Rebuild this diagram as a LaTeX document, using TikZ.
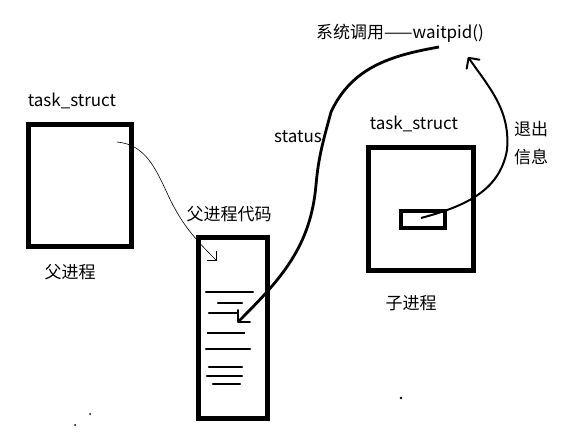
\documentclass[tikz,border=0pt]{standalone}
\usepackage{fontspec}
\setmainfont{Noto Sans CJK SC}
\usetikzlibrary{arrows.meta}
\tikzset{
  box/.style={draw, line width=5pt, inner sep=0pt, anchor=north west},
  lbl/.style={font=\fontsize{17}{20}\selectfont, inner sep=0pt},
  codeline/.style={line width=2.5pt, line cap=round},
  barb/.style={-{Straight Barb[angle=90:9pt 1, round]}},
}
\begin{document}
\begin{tikzpicture}[x=1pt, y=-1pt]
        \useasboundingbox (0,0) rectangle (562,435);
        % parent process
        \node[box, minimum width=103pt, minimum height=122pt] (parent) at (26,122.5) {};
        \node[lbl] (ptask) at (72,101) {task\_struct};
        \node[lbl] (pname) at (70,272) {父进程};

        % parent code
        \node[box, minimum width=69pt, minimum height=180pt] (code) at (195.5,235.5) {};
        \node[lbl] (codename) at (229,214) {父进程代码};
        \draw[codeline] (206,292) -- (253,292);
        \draw[codeline] (218,303) -- (242,303);
        \draw[codeline] (209,313) -- (237,313);
        \draw[line width=1.2pt] (207,333) -- (245,333);
        \draw[codeline] (206,349) -- (250,349);
        \draw[codeline] (209,367) -- (242,367);
        \draw[codeline] (207,376) -- (242,376);
        \draw[codeline] (213,384) -- (240,384);

        % child process
        \node[box, minimum width=105pt, minimum height=123pt] (child) at (365.5,145.5) {};
        \node[box, line width=4pt, minimum width=44pt, minimum height=17pt] (info) at (399,209) {};
        \node[lbl] (ctask) at (414,124) {task\_struct};
        \node[lbl] (cname) at (411,303) {子进程};
        \node[lbl] (exit1) at (531,129) {退出};
        \node[lbl] (exit2) at (531,157) {信息};

        % system call
        \node[lbl] (call) at (400,33) {系统调用——waitpid()};
        \node[lbl] (status) at (298,137) {status};

        \coordinate (ps) at (117,142);
        \coordinate (pc) at (217,261);
        \coordinate (cs) at (421,218);
        \coordinate (ct) at (468,57);
        \coordinate (ws) at (439,47);
        \coordinate (wt) at (237,323);

        \draw[barb, line width=0.6pt] (ps) to[out=-5,in=115] (168,195) to[out=-65,in=135] (pc);
        \draw[barb, line width=2.8pt] (ws) to[out=190,in=65] (331,112) to[out=-105,in=85] (316,185) to[out=-95,in=45] (wt);
        \draw[barb, line width=2pt] (cs) to[out=15,in=-100] (507,150) to[out=85,in=-55] (ct);

        \fill (401,398) circle (1.3pt);
        \fill (90,414) circle (1pt);
        \fill (75,425) circle (1pt);
    \end{tikzpicture}
\end{document}
